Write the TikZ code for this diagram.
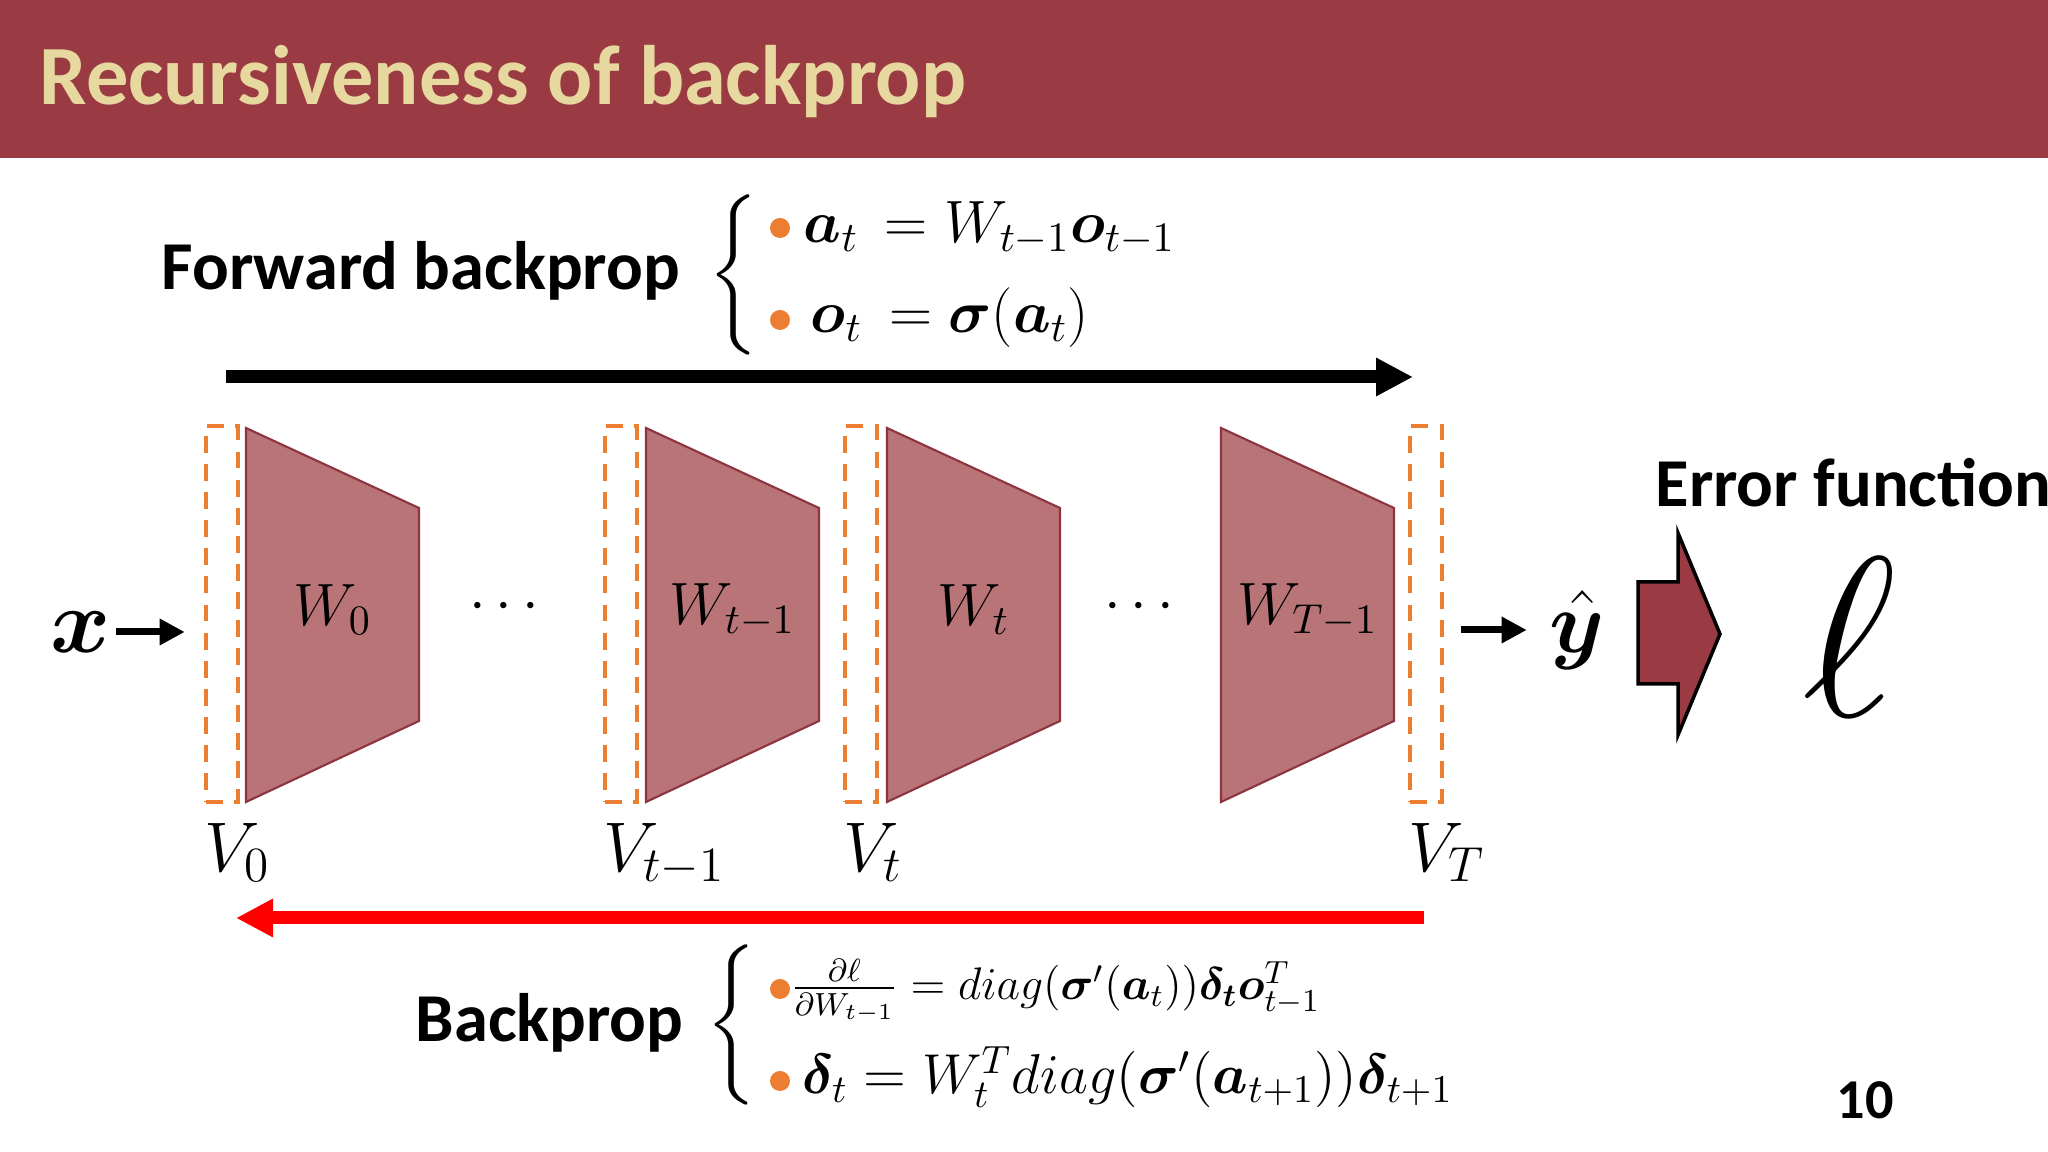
\RequirePackage{fix-cm}
\documentclass[tikz,border=0pt]{standalone}
\usepackage{amsmath,amssymb,bm}
\usepackage{fontspec}
\setsansfont{Carlito}
\usetikzlibrary{arrows.meta}
\definecolor{slidered}{HTML}{9A3A42}
\definecolor{titlecream}{HTML}{E6D89F}
\definecolor{layerfill}{HTML}{B87476}
\definecolor{layerline}{HTML}{8E3440}
\definecolor{vorange}{HTML}{ED7D31}

\begin{document}
\begin{tikzpicture}[x=1cm,y=1cm,
  layer/.style={fill=layerfill,draw=layerline,line width=0.6pt},
  vbox/.style={draw=vorange,line width=1.3pt,dash pattern=on 4.8pt off 3.2pt,minimum width=0.32cm,minimum height=3.76cm,inner sep=0pt},
  wlabel/.style={font=\fontsize{17}{20}\selectfont},
  vlabel/.style={font=\fontsize{20}{24}\selectfont,inner sep=0pt,anchor=north west,yshift=-0.18cm},
  bold/.style={font=\sffamily\bfseries\fontsize{19.5}{24}\selectfont,inner sep=0pt,anchor=base west},
  eq/.style={font=\fontsize{17}{20}\selectfont,inner sep=0pt},
  dot/.style={circle,fill=vorange,minimum size=0.2cm,inner sep=0pt},
  bigarrow/.style={line width=0.13cm,-{Triangle[length=0.37cm,width=0.36cm]}},
  smallarrow/.style={line width=0.07cm,-{Triangle[length=0.25cm,width=0.25cm]}},
]
\useasboundingbox (0,0) rectangle (20.48,11.52);
% title bar
\fill[slidered] (0,9.94) rectangle (20.48,11.52);
\node[anchor=base west,inner sep=0pt,text=titlecream,font=\sffamily\bfseries\fontsize{24}{28}\selectfont] (title) at (0.39,10.47) {Recursiveness of backprop};

% forward pass
\node[bold] (fwd) at (1.61,8.62) {Forward backprop};
\node[eq,font=\fontsize{19}{22}\selectfont] (brace1) at (7.36,8.76) {$\left\{\vrule height 0.66cm depth 0.66cm width 0pt\right.$};
\node[dot] (b1) at (7.80,9.24) {};
\node[eq,anchor=base west] (f1) at (8.03,9.09) {$\bm{a}_t\,=W_{t-1}\bm{o}_{t-1}$};
\node[dot] (b2) at (7.80,8.32) {};
\node[eq,anchor=base west] (f2) at (8.10,8.19) {$\bm{o}_t\,=\bm{\sigma}(\bm{a}_t)$};
\coordinate (fwdstart) at (2.26,7.75);
\coordinate (fwdend) at (14.13,7.75);
\draw[bigarrow] (fwdstart) -- (fwdend);

% layers
\foreach \n/\x/\lab in {v0/2.22/V_0, vtm/6.21/V_{t-1}, vt/8.61/V_t, vT/14.26/V_T}{
  \node[vbox] (\n) at (\x,5.38) {};
  \node[vlabel] (\n-lab) at (\n.south west) {$\lab$};
}
\foreach \n/\x/\lab in {w0/2.46/W_0, wtm/6.46/W_{t-1}, wt/8.87/W_t, wT/12.21/W_{T-1}}{
  \draw[layer] (\x,7.24) -- ++(1.73,-0.80) -- ++(0,-2.13) -- (\x,3.50) -- cycle;
  \node[wlabel] (\n) at (\x+0.865,5.42) {$\lab$};
}
\node[wlabel] (dots1) at (5.09,5.45) {$\cdots$};
\node[wlabel] (dots2) at (11.44,5.45) {$\cdots$};

% input and output
\node[font=\fontsize{26}{30}\selectfont,inner sep=0.04cm] (x) at (0.81,5.20) {$\bm{x}$};
\draw[smallarrow,shorten >=0.19cm] (x.east) -- (x.east -| v0.west);
\node[font=\fontsize{25}{30}\selectfont,inner sep=0.22cm] (yhat) at (15.77,5.22) {$\hat{\bm{y}}$};
\draw[smallarrow,shorten <=0.17cm] (yhat.west -| vT.east) -- (yhat.west);
\draw[fill=slidered,line width=1pt] (16.38,5.70) -- (16.78,5.70) -- (16.78,6.19) -- (17.20,5.18)
  -- (16.78,4.17) -- (16.78,4.68) -- (16.38,4.68) -- cycle;
\node[bold] (err) at (16.55,6.45) {Error function};
\node[font=\fontsize{65}{70}\selectfont] (loss) at (18.49,5.15) {$\ell$};

% backward pass
\coordinate (bwdstart) at (14.24,2.34);
\coordinate (bwdend) at (2.36,2.34);
\draw[bigarrow,red] (bwdstart) -- (bwdend);
\node[bold] (bwd) at (4.15,1.10) {Backprop};
\node[eq,font=\fontsize{19}{22}\selectfont] (brace2) at (7.34,1.26) {$\left\{\vrule height 0.66cm depth 0.66cm width 0pt\right.$};
\node[dot] (b3) at (7.80,1.63) {};
\node[eq,font=\fontsize{13}{16}\selectfont,anchor=west] (f3) at (7.90,1.61) {$\frac{\partial\ell}{\partial W_{t-1}}=diag(\bm{\sigma}'(\bm{a}_t))\bm{\delta_t}\bm{o}_{t-1}^T$};
\node[dot] (b4) at (7.80,0.71) {};
\node[eq,font=\fontsize{16}{20}\selectfont,anchor=base west] (f4) at (8.02,0.58) {$\bm{\delta}_t=W_t^T diag(\bm{\sigma}'(\bm{a}_{t+1}))\bm{\delta}_{t+1}$};
\node[font=\sffamily\bfseries\fontsize{16}{20}\selectfont] (page) at (18.65,0.52) {10};
\end{tikzpicture}
\end{document}
